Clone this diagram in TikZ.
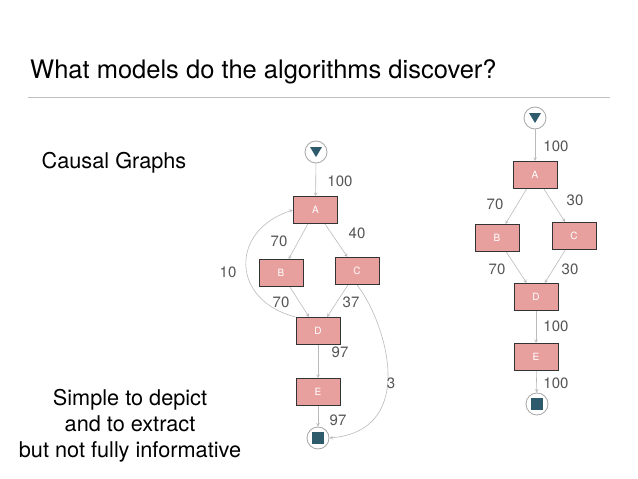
\documentclass[tikz,border=0pt]{standalone}
\usepackage{fontspec}
\setmainfont{TeX Gyre Heros}
\usetikzlibrary{shapes.geometric}
\definecolor{boxf}{HTML}{E8A09E}
\definecolor{teal}{HTML}{2D5B6B}
\definecolor{edge}{HTML}{BBBBBB}
\definecolor{lbl}{HTML}{555555}
\begin{document}
\begin{tikzpicture}[x=1pt,y=-1pt,
  bx/.style={draw=black!80,line width=1pt,fill=boxf,minimum width=44pt,minimum height=27pt,text=white,font=\fontsize{10}{10}\selectfont},
  ev/.style={circle,draw=gray!70,line width=0.8pt,minimum size=22pt,inner sep=0},
  ed/.style={draw=edge,line width=0.6pt,-stealth},
  lb/.style={text=lbl,font=\fontsize{15}{15}\selectfont},
  tx/.style={font=\fontsize{21.7}{26}\selectfont,align=center}]
\useasboundingbox (0,0) rectangle (638,479);
\fill[white] (0,0) rectangle (638,479);
\node[anchor=west,font=\fontsize{25.5}{25.5}\selectfont,inner sep=0] (t) at (30,72) {What models do the algorithms discover?};
\coordinate (l1) at (28,97); \coordinate (l2) at (610,97);
\draw[gray!50,line width=0.8pt] (l1) -- (l2);
\node[tx] (cg) at (114,163) {Causal Graphs};
\node[tx] (st) at (130,426) {Simple to depict\\and to extract\\but not fully informative};
% left graph
\node[ev] (s1) at (316,152) {};
\fill[teal] (s1.center) ++(-6,-5) -- ++(12,0) -- ++(-6,10) -- cycle;
\node[bx] (A) at (315.5,210) {A};
\node[bx] (B) at (281,273) {B};
\node[bx] (C) at (357,271) {C};
\node[bx] (D) at (318,331) {D};
\node[bx] (E) at (318,392) {E};
\node[ev] (e1) at (318,438) {};
\fill[teal] (e1.center) +(-6,-6) rectangle +(6,6);
\draw[ed] (s1) -- (A);
\draw[ed] (A) -- (B);
\draw[ed] (A) -- (C);
\draw[ed] (B) -- (D);
\draw[ed] (C) -- (D);
\draw[ed] (D) -- (E);
\draw[ed] (E) -- (e1);
\draw[ed] (D.north west) .. controls (230,300) and (230,230) .. (A.west);
\draw[ed] (C.south) .. controls (385,320) and (420,430) .. (e1.east);
\node[lb] at (340,181) {100};
\node[lb] at (279,241) {70};
\node[lb] at (357,233) {40};
\node[lb] at (228,272) {10};
\node[lb] at (281,302) {70};
\node[lb] at (351,302) {37};
\node[lb] at (340,352) {97};
\node[lb] at (338,420) {97};
\node[lb] at (391,383) {3};
% right graph
\node[ev] (s2) at (535,118) {};
\fill[teal] (s2.center) ++(-6,-5) -- ++(12,0) -- ++(-6,10) -- cycle;
\node[bx] (A2) at (535,175) {A};
\node[bx] (B2) at (497,238) {B};
\node[bx] (C2) at (574,236) {C};
\node[bx] (D2) at (536,297) {D};
\node[bx] (E2) at (536,357) {E};
\node[ev] (e2) at (537,404) {};
\fill[teal] (e2.center) +(-6,-6) rectangle +(6,6);
\draw[ed] (s2) -- (A2);
\draw[ed] (A2) -- (B2);
\draw[ed] (A2) -- (C2);
\draw[ed] (B2) -- (D2);
\draw[ed] (C2) -- (D2);
\draw[ed] (D2) -- (E2);
\draw[ed] (E2) -- (e2);
\node[lb] at (556,146) {100};
\node[lb] at (495,204) {70};
\node[lb] at (575,200) {30};
\node[lb] at (497,269) {70};
\node[lb] at (570,269) {30};
\node[lb] at (556,326) {100};
\node[lb] at (556,383) {100};
\end{tikzpicture}
\end{document}
